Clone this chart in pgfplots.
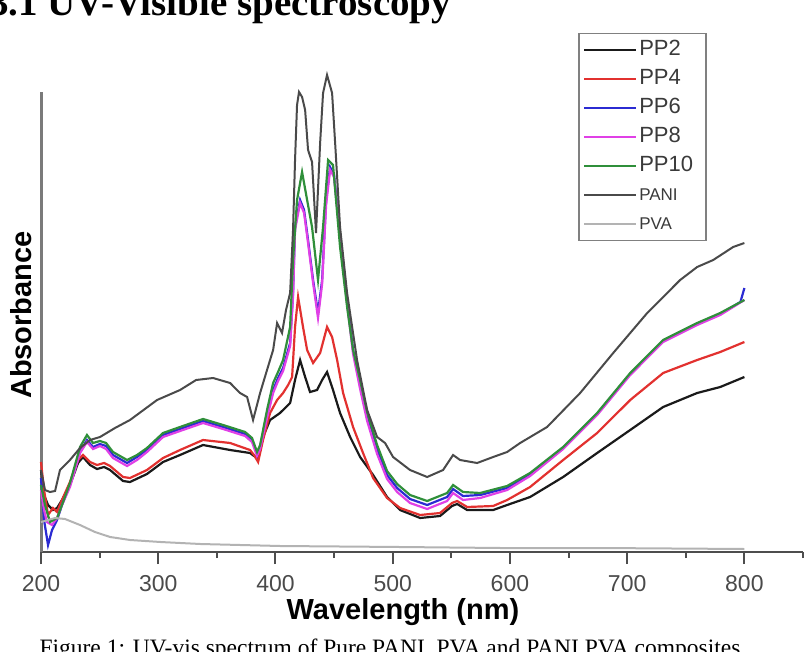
\documentclass[border=0pt]{standalone}
\usepackage{fontspec}
\setmainfont{Liberation Serif}
\setsansfont{Liberation Sans}
\usepackage{pgfplots}
\pgfplotsset{compat=1.18}

\definecolor{cPPtwo}{HTML}{1A1A1A}
\definecolor{cPPfour}{HTML}{E2312F}
\definecolor{cPPsix}{HTML}{2B2BD2}
\definecolor{cPPeight}{HTML}{E040E6}
\definecolor{cPPten}{HTML}{2F8F3A}
\definecolor{cPANI}{HTML}{4A4A4A}
\definecolor{cPVA}{HTML}{B3B3B3}
\definecolor{axgray}{HTML}{4D4D4D}
\definecolor{yaxgray}{HTML}{7A7A7A}
\definecolor{ticktext}{HTML}{4A4A4A}
\definecolor{legtext}{HTML}{3A3A3A}
\definecolor{leggray}{HTML}{808080}

\newcommand{\entry}[1]{#1\hspace*{7pt}}

\begin{document}
\begin{tikzpicture}[x=1pt,y=1pt]
\useasboundingbox (0,0) rectangle (810,651);
\clip (0,0) rectangle (810,651);

% section heading and figure caption of the page
\node[anchor=base west, inner sep=0pt, font=\fontsize{39}{39}\selectfont\bfseries]
  at (-11,635.5) {3.1 UV-Visible spectroscopy};
\node[anchor=base, inner sep=0pt, font=\fontsize{23.5}{23.5}\selectfont]
  at (390,-4) {Figure 1: UV-vis spectrum of Pure PANI, PVA and PANI PVA composites};

\begin{axis}[
  at={(41pt,99pt)}, anchor=south west,
  width=762pt, height=460pt, scale only axis,
  xmin=200, xmax=850, ymin=0, ymax=4.6,
  clip=false,
  axis x line*=bottom, axis y line*=left,
  x axis line style={draw=axgray, line width=2pt, -},
  y axis line style={draw=yaxgray, line width=3pt, -},
  xtick={200,300,400,500,600,700,800},
  xticklabels={200,300,400,500,600,700,800},
  minor xtick={250,350,450,550,650,750,850},
  ytick=\empty,
  tick align=outside,
  major tick length=12pt, minor tick length=6pt,
  every tick/.style={draw=axgray, line width=2pt},
  xticklabel style={font=\sffamily\fontsize{23}{23}\selectfont, text=ticktext,
    anchor=base, yshift=-27pt},
  xlabel={Wavelength (nm)},
  xlabel style={font=\sffamily\bfseries\fontsize{29}{29}\selectfont,
    at={(axis description cs:0.475,-0.1457)}, anchor=base, inner sep=0pt},
  ylabel={Absorbance},
  ylabel style={font=\sffamily\bfseries\fontsize{29}{29}\selectfont,
    at={(axis description cs:-0.0131,0.515)}, anchor=base, inner sep=0pt},
  legend style={at={(0.705,1.128)}, anchor=north west,
    draw=leggray, line width=1.3pt, fill=white,
    inner xsep=4pt, inner ysep=2pt,
    font=\sffamily\fontsize{22}{22}\selectfont, text=legtext,
    nodes={inner ysep=4pt, inner xsep=2pt, text height=16pt, text depth=5pt}},
  legend cell align=left,
  legend image code/.code={\draw[#1, line width=2.4pt] (0pt,0pt) -- (52pt,0pt);},
]

% PP2
\addplot[cPPtwo, line width=2.2pt] coordinates {
(200,0.82) (202.6,0.57) (206,0.47) (210.2,0.42) (213.7,0.44) (217.9,0.52)
(224.7,0.67) (231.6,0.89) (235.8,0.95) (241.8,0.87) (247.8,0.83) (253.8,0.85)
(258.9,0.82) (270,0.71) (275.9,0.70) (290.4,0.78) (304.1,0.90) (318.6,0.97)
(338.2,1.07) (361.3,1.02) (378.3,0.99) (381.7,0.96) (385.2,0.94) (389.4,1.15)
(395.4,1.32) (403.9,1.39) (412.5,1.49) (416.7,1.72) (421,1.92) (425.3,1.75)
(429.5,1.60) (435.5,1.62) (439.8,1.72) (444,1.80) (449.1,1.62) (455.1,1.39)
(463.7,1.15) (472.2,0.95) (483.3,0.77) (495.2,0.55) (506.3,0.42) (523.4,0.34)
(540.4,0.36) (550.6,0.46) (555,0.48) (563.5,0.42) (585.7,0.42) (597.6,0.47)
(617.2,0.55) (645.4,0.75) (674.4,0.99) (702.6,1.22) (730.7,1.45) (759.7,1.59)
(779.4,1.65) (800,1.75)
};
\addlegendentry{\entry{PP2}}

% PP4
\addplot[cPPfour, line width=2.2pt] coordinates {
(200,0.90) (202.6,0.62) (206,0.37) (210.2,0.44) (213.7,0.40) (217.9,0.52)
(224.7,0.70) (231.6,0.92) (235.8,0.97) (241.8,0.90) (247.8,0.87) (253.8,0.89)
(258.9,0.86) (270,0.75) (275.9,0.74) (290.4,0.82) (304.1,0.94) (318.6,1.02)
(338.2,1.12) (361.3,1.09) (378.3,1.02) (381.7,0.97) (385.2,0.90) (389.4,1.12)
(395.4,1.39) (401.4,1.52) (406.5,1.59) (410.8,1.67) (414.2,1.75) (416.7,2.25)
(419.3,2.55) (423.5,2.25) (427,2.02) (432.1,1.89) (438.1,1.99) (444,2.25)
(448.3,2.15) (452.6,1.92) (457.7,1.59) (466.2,1.25) (474.7,0.99) (483.3,0.74)
(495.2,0.54) (506.3,0.44) (523.4,0.37) (540.4,0.39) (550.6,0.49) (555,0.51)
(563.5,0.45) (585.7,0.46) (597.6,0.52) (617.2,0.65) (645.4,0.92) (674.4,1.19)
(702.6,1.52) (730.7,1.79) (759.7,1.92) (779.4,2.00) (800,2.10)
};
\addlegendentry{\entry{PP4}}

% PP6
\addplot[cPPsix, line width=2.2pt] coordinates {
(200,0.74) (202.6,0.32) (206,0.07) (209.4,0.22) (213.7,0.32) (217.9,0.47)
(224.7,0.67) (233.3,1.00) (239.2,1.12) (244.4,1.05) (250.3,1.08) (255.5,1.06)
(261.4,0.97) (273.4,0.89) (281.9,0.95) (290.4,1.02) (304.1,1.17) (318.6,1.23)
(338.2,1.31) (355.3,1.25) (374.1,1.18) (380,1.12) (384.3,0.98) (386.9,1.05)
(392.8,1.37) (398,1.62) (402.2,1.74) (406.5,1.84) (412.5,2.09) (415,2.59)
(416.7,3.25) (421,3.52) (424.4,3.42) (427.8,3.12) (432.1,2.72) (436.3,2.39)
(439.8,2.72) (443.2,3.52) (446.6,3.85) (450,3.77) (455.1,3.17) (461.1,2.52)
(466.2,2.02) (472.2,1.67) (478.2,1.35) (486.7,1.02) (495.2,0.77) (503.8,0.64)
(514.8,0.53) (529.4,0.47) (546.4,0.55) (551.5,0.63) (560,0.56) (574.6,0.57)
(597.6,0.64) (617.2,0.77) (645.4,1.04) (674.4,1.38) (702.6,1.78) (730.7,2.11)
(759.7,2.28) (779.4,2.38) (796.6,2.50) (800,2.64)
};
\addlegendentry{\entry{PP6}}

% PP8
\addplot[cPPeight, line width=2.2pt] coordinates {
(200,0.62) (202.6,0.42) (205,0.30) (209.4,0.27) (213.7,0.34) (217.9,0.47)
(224.7,0.65) (233.3,0.99) (239.2,1.10) (244.4,1.03) (250.3,1.06) (255.5,1.03)
(261.4,0.94) (273.4,0.86) (281.9,0.92) (290.4,1.00) (304.1,1.15) (318.6,1.21)
(338.2,1.29) (355.3,1.23) (374.1,1.16) (380,1.10) (384.3,0.96) (386.9,1.03)
(392.8,1.34) (398,1.59) (402.2,1.71) (406.5,1.81) (412.5,2.06) (415,2.56)
(416.7,3.22) (421,3.49) (424.4,3.39) (427.8,3.09) (432.1,2.69) (436.3,2.34)
(439.8,2.68) (443.2,3.47) (446.6,3.82) (450,3.75) (455.1,3.14) (461.1,2.48)
(466.2,1.98) (472.2,1.63) (478.2,1.31) (486.7,0.98) (495.2,0.73) (503.8,0.60)
(514.8,0.49) (529.4,0.43) (546.4,0.51) (551.5,0.59) (560,0.52) (574.6,0.54)
(597.6,0.62) (617.2,0.76) (645.4,1.03) (674.4,1.37) (702.6,1.77) (730.7,2.10)
(759.7,2.27) (779.4,2.37) (800,2.52)
};
\addlegendentry{\entry{PP8}}

% PP10
\addplot[cPPten, line width=2.2pt] coordinates {
(200,0.67) (203.4,0.47) (207.7,0.30) (213.7,0.34) (217.9,0.47) (224.7,0.69)
(233.3,1.05) (239.2,1.17) (244.4,1.09) (250.3,1.11) (255.5,1.09) (261.4,1.00)
(273.4,0.92) (281.9,0.97) (290.4,1.04) (304.1,1.19) (318.6,1.25) (338.2,1.33)
(355.3,1.27) (374.1,1.20) (380,1.14) (384.3,1.00) (386.9,1.07) (392.8,1.42)
(398,1.69) (402.2,1.80) (406.5,1.92) (412.5,2.25) (415,2.92) (418.4,3.52)
(422.7,3.80) (427,3.52) (431.2,3.25) (436.3,2.72) (440.6,3.25) (444.9,3.92)
(449.1,3.87) (455.1,3.05) (461.1,2.45) (466.2,2.02) (472.2,1.72) (478.2,1.40)
(486.7,1.07) (495.2,0.81) (503.8,0.68) (514.8,0.57) (529.4,0.51) (546.4,0.59)
(551.5,0.67) (560,0.60) (574.6,0.59) (597.6,0.66) (617.2,0.79) (645.4,1.05)
(674.4,1.39) (702.6,1.79) (730.7,2.12) (759.7,2.29) (779.4,2.39) (800,2.52)
};
\addlegendentry{\entry{PP10}}

% PANI
\addplot[cPANI, line width=2pt] coordinates {
(200,0.82) (203.4,0.62) (207.7,0.60) (212,0.61) (216.2,0.82) (224.7,0.92)
(233.3,1.04) (241.8,1.12) (250.3,1.15) (263.1,1.24) (275.9,1.32) (299,1.52)
(318.6,1.62) (332.3,1.72) (346.8,1.74) (361.3,1.69) (369.8,1.59) (375.8,1.55)
(380.9,1.32) (386.9,1.59) (392.8,1.82) (398,2.02) (401.4,2.29) (405.6,2.19)
(409,2.42) (412.5,2.59) (415,3.22) (416.7,3.92) (418.4,4.47) (420.1,4.60)
(422.7,4.55) (425.3,4.42) (427.8,4.02) (431.2,3.90) (434.6,3.19) (438.1,4.09)
(440.6,4.59) (444,4.77) (448.3,4.59) (450.9,4.09) (455.1,3.25) (461.1,2.59)
(469.6,1.92) (478.2,1.42) (486.7,1.15) (493.5,1.09) (500.3,0.95) (514.8,0.82)
(529.4,0.75) (543,0.82) (551.5,0.97) (557.5,0.92) (572,0.89) (585.7,0.95)
(597.6,1.00) (608.7,1.09) (631.7,1.25) (659.9,1.59) (688.1,1.99) (717.1,2.39)
(745.2,2.72) (759.7,2.85) (773.4,2.92) (790.4,3.05) (800,3.09)
};
\addlegendentry{\fontsize{17}{17}\selectfont PANI}

% PVA
\addplot[cPVA, line width=2pt] coordinates {
(200,0.30) (212,0.34) (220.5,0.33) (233.3,0.27) (246,0.20) (259,0.15)
(276,0.12) (302,0.10) (336,0.08) (404,0.06) (506,0.05) (592,0.04)
(677,0.04) (800,0.03)
};
\addlegendentry{\fontsize{17}{17}\selectfont PVA}

\end{axis}
\end{tikzpicture}
\end{document}
